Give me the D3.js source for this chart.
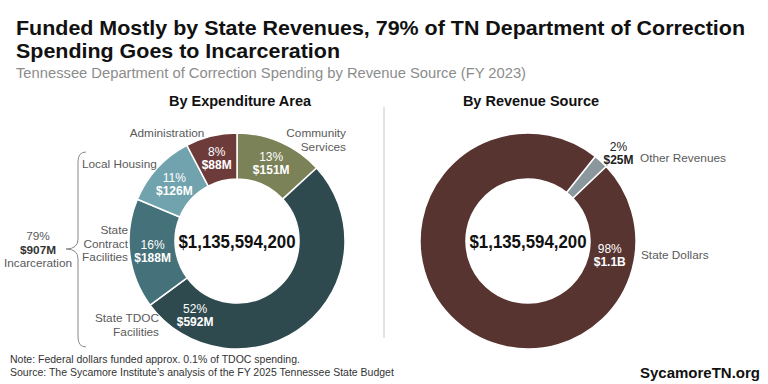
<!DOCTYPE html>
<html>
<head>
<meta charset="utf-8">
<script src="https://cdn.jsdelivr.net/npm/d3@7"></script>
<style>
  body { margin: 0; background: #fff; }
  svg text { font-family: "Liberation Sans", Arial, sans-serif; }
</style>
</head>
<body>
<div id="chart"></div>
<script>
var w = 768;
var h = 384;

// spending by expenditure area, $ millions (clockwise from 12 o'clock)
var areaNames = ["Community Services", "State TDOC Facilities", "State Contract Facilities", "Local Housing", "Administration"];
var areaValues = [151, 592, 188, 126, 88];
var areaPcts = ["13%", "52%", "16%", "11%", "8%"];
var areaAmounts = ["$151M", "$592M", "$188M", "$126M", "$88M"];
var areaColors = ["#7b8258", "#2e4a4e", "#45717a", "#70a3ad", "#6d3b3a"];

// spending by revenue source, $ millions
var sourceNames = ["Other Revenues", "State Dollars"];
var sourceValues = [25, 1111];
var sourcePcts = ["2%", "98%"];
var sourceAmounts = ["$25M", "$1.1B"];
var sourceColors = ["#8a979c", "#583431"];

var totalLabel = "$1,135,594,200";

var svg = d3.select("#chart")
    .append("svg")
    .attr("width", w)
    .attr("height", h);

// squeeze text to a target width (the original uses a narrow face)
function fit(sel, width) {
    sel.attr("textLength", width).attr("lengthAdjust", "spacingAndGlyphs");
}

//Titles
var t1 = svg.append("text").attr("x", 16).attr("y", 35)
    .attr("font-size", 20.5).attr("font-weight", "bold").attr("fill", "#111")
    .text("Funded Mostly by State Revenues, 79% of TN Department of Correction");
var ratio = 729 / t1.node().getComputedTextLength();
fit(t1, 729);
var t2 = svg.append("text").attr("x", 16).attr("y", 58)
    .attr("font-size", 20.5).attr("font-weight", "bold").attr("fill", "#111")
    .text("Spending Goes to Incarceration");
fit(t2, t2.node().getComputedTextLength() * ratio);
var st = svg.append("text").attr("x", 16).attr("y", 78)
    .attr("font-size", 14).attr("fill", "#8c8c8c")
    .text("Tennessee Department of Correction Spending by Revenue Source (FY 2023)");
fit(st, 510);

// divider
svg.append("line")
    .attr("x1", 384).attr("x2", 384).attr("y1", 107).attr("y2", 338)
    .attr("stroke", "#c8c8c8").attr("stroke-width", 1);

var outerR = 108, innerR = 62;
var arc = d3.arc().innerRadius(innerR).outerRadius(outerR);
var deg = Math.PI / 180;

function polar(r, a) {
    return [r * Math.sin(a), -r * Math.cos(a)];
}

function donut(cx, cy, names, values, colors, start, header) {
    var g = svg.append("g").attr("transform", "translate(" + cx + "," + cy + ")");
    var pie = d3.pie().sort(null).startAngle(start).endAngle(start + 2 * Math.PI);
    var arcs = pie(values);
    g.selectAll("path")
        .data(arcs)
        .enter()
        .append("path")
        .attr("d", arc)
        .attr("fill", function (d, i) { return colors[i]; })
        .attr("stroke", "#fff")
        .attr("stroke-width", 1.5);

    g.append("text").attr("y", 7).attr("text-anchor", "middle")
        .attr("font-size", 18).attr("font-weight", "bold").attr("fill", "#111")
        .text(totalLabel)
        .call(function (s) { fit(s, 117); });

    svg.append("text").attr("x", cx + 3).attr("y", 106).attr("text-anchor", "middle")
        .attr("font-size", 14.5).attr("font-weight", "bold").attr("fill", "#111")
        .text(header);
    return { g: g, arcs: arcs };
}

function valueLabel(g, pos, pct, amt, color) {
    var t = g.append("text").attr("text-anchor", "middle")
        .attr("font-size", 12).attr("fill", color);
    t.append("tspan").attr("x", pos[0]).attr("y", pos[1] - 2).text(pct);
    t.append("tspan").attr("x", pos[0]).attr("y", pos[1] + 11)
        .attr("font-weight", "bold").text(amt);
}

function nameLabel(g, x, y, lines, anchor) {
    var t = g.append("text").attr("text-anchor", anchor)
        .attr("font-size", 11.8).attr("fill", "#5a5a5a");
    lines.forEach(function (l, i) {
        t.append("tspan").attr("x", x).attr("y", y + i * 13.5).text(l);
    });
}

// ---- left donut: by expenditure area
var left = donut(237, 241, areaNames, areaValues, areaColors, 0, "By Expenditure Area");
left.arcs.forEach(function (d, i) {
    var a = (d.startAngle + d.endAngle) / 2;
    if (i === 1) a = d.endAngle - 0.42; // TDOC label sits low-left
    var p = polar(85, a);
    valueLabel(left.g, p, areaPcts[i], areaAmounts[i], "#fff");
});
nameLabel(left.g, 109, -104, ["Community", "Services"], "end");
nameLabel(left.g, -70, -104, ["Administration"], "middle");
nameLabel(left.g, -155, -73, ["Local Housing"], "start");
nameLabel(left.g, -109, -7, ["State", "Contract", "Facilities"], "end");
nameLabel(left.g, -78, 81, ["State TDOC", "Facilities"], "end");

// incarceration brace
var bx = 78, bTop = 152, bBot = 347, bMid = 249, bTip = 66;
svg.append("path")
    .attr("d", "M" + (bx + 8) + "," + bTop +
        " Q" + bx + "," + bTop + " " + bx + "," + (bTop + 10) +
        " L" + bx + "," + (bMid - 10) +
        " Q" + bx + "," + bMid + " " + bTip + "," + bMid +
        " Q" + bx + "," + bMid + " " + bx + "," + (bMid + 10) +
        " L" + bx + "," + (bBot - 10) +
        " Q" + bx + "," + bBot + " " + (bx + 8) + "," + bBot)
    .attr("fill", "none").attr("stroke", "#8a8a8a").attr("stroke-width", 1);
var inc = svg.append("text").attr("text-anchor", "middle")
    .attr("font-size", 11.8).attr("fill", "#5a5a5a");
inc.append("tspan").attr("x", 38).attr("y", 240).text("79%");
inc.append("tspan").attr("x", 38).attr("y", 253.5).attr("font-weight", "bold").attr("fill", "#333").text("$907M");
inc.append("tspan").attr("x", 38).attr("y", 267).text("Incarceration");

// ---- right donut: by revenue source
var right = donut(528, 241, sourceNames, sourceValues, sourceColors, 38.5 * deg, "By Revenue Source");
right.arcs.forEach(function (d, i) {
    var a = (d.startAngle + d.endAngle) / 2;
    if (i === 0) {
        var p = polar(126, a + 0.06);
        valueLabel(right.g, p, sourcePcts[i], sourceAmounts[i], "#222");
    } else {
        valueLabel(right.g, polar(83, 100 * deg), sourcePcts[i], sourceAmounts[i], "#fff");
    }
});
nameLabel(right.g, 112, -79, ["Other Revenues"], "start");
nameLabel(right.g, 113, 18, ["State Dollars"], "start");

// footer
var ft = svg.append("text").attr("font-size", 10.5).attr("fill", "#333");
ft.append("tspan").attr("x", 10).attr("y", 363).text("Note: Federal dollars funded approx. 0.1% of TDOC spending.");
ft.append("tspan").attr("x", 10).attr("y", 376).text("Source: The Sycamore Institute\u2019s analysis of the FY 2025 Tennessee State Budget");
svg.append("text").attr("x", 760).attr("y", 378).attr("text-anchor", "end")
    .attr("font-size", 15).attr("font-weight", "bold").attr("fill", "#111")
    .text("SycamoreTN.org");
</script>
</body>
</html>
